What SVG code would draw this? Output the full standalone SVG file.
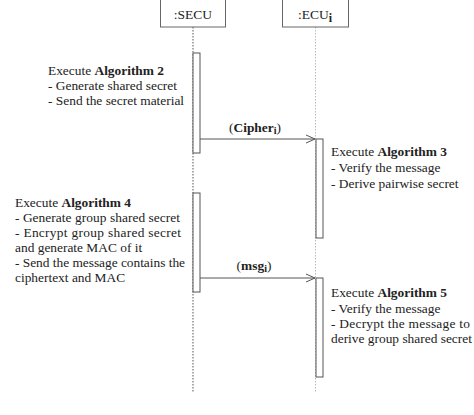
<svg xmlns="http://www.w3.org/2000/svg" width="474" height="415" viewBox="0 0 474 415">
<style>
text{font-family:"Liberation Serif","Times New Roman",serif;font-size:13.4px;fill:#222}
.hd{font-size:13.5px}
.b{font-weight:bold}
.box{fill:#fff;stroke:#666;stroke-width:1}
.bar{fill:#fff;stroke:#555;stroke-width:1}
.msg{stroke:#555;stroke-width:1;fill:none}
</style>
<defs>
<marker id="ah" markerWidth="12" markerHeight="10" refX="10" refY="5" orient="auto" markerUnits="userSpaceOnUse">
<path d="M1,1 L10,5 L1,9" fill="none" stroke="#555" stroke-width="1"/>
</marker>
</defs>
<rect width="474" height="415" fill="#fff"/>
<g id="lifelines">
<line x1="193" y1="27" x2="193" y2="392" stroke="#555" stroke-width="1" stroke-dasharray="1.5,1.5"/>
<line x1="315.5" y1="27" x2="315.5" y2="392" stroke="#bbb" stroke-width="1" stroke-dasharray="1.5,1.5"/>
</g>
<g id="secu">
<rect class="box" x="160.5" y="-1" width="65" height="28"/>
<text class="hd" x="193" y="19" text-anchor="middle">:SECU</text>
</g>
<g id="ecu">
<rect class="box" x="282.5" y="-1" width="66" height="28"/>
<text class="hd" x="315" y="19" text-anchor="middle">:ECU<tspan class="b" dy="3" font-size="12">i</tspan></text>
</g>
<g id="secu-act1"><rect class="bar" x="193" y="53" width="7" height="100"/></g>
<g id="secu-act2"><rect class="bar" x="193" y="193" width="7" height="99"/></g>
<g id="ecu-act1"><rect class="bar" x="316" y="139" width="7" height="99"/></g>
<g id="ecu-act2"><rect class="bar" x="316" y="278" width="7" height="99"/></g>
<g id="connectors">
<line class="msg" x1="200" y1="139" x2="315" y2="139" marker-end="url(#ah)"/>
<text x="255" y="132" text-anchor="middle" font-size="13.2">(<tspan class="b">Cipher<tspan dy="2" font-size="10">i</tspan></tspan><tspan dy="-2">)</tspan></text>
<line class="msg" x1="200" y1="278" x2="315" y2="278" marker-end="url(#ah)"/>
<text x="254" y="270" text-anchor="middle" font-size="13.2">(<tspan class="b">msg<tspan dy="2" font-size="10">i</tspan></tspan><tspan dy="-2">)</tspan></text>
</g>
<g id="note-alg2">
<text x="48" y="75">Execute <tspan class="b">Algorithm 2</tspan></text>
<text x="48" y="90">- Generate shared secret</text>
<text x="48" y="105">- Send the secret material</text>
</g>
<g id="note-alg3">
<text x="331" y="156">Execute <tspan class="b">Algorithm 3</tspan></text>
<text x="331" y="172">- Verify the message</text>
<text x="331" y="188">- Derive pairwise secret</text>
</g>
<g id="note-alg4">
<text x="15" y="207">Execute <tspan class="b">Algorithm 4</tspan></text>
<text x="15" y="222" textLength="165" lengthAdjust="spacing">-  Generate group shared secret</text>
<text x="15" y="237" textLength="166" lengthAdjust="spacing">- Encrypt group shared secret</text>
<text x="15" y="252">and generate MAC of it</text>
<text x="15" y="267" textLength="170" lengthAdjust="spacing">- Send the message contains the</text>
<text x="15" y="282">ciphertext and MAC</text>
</g>
<g id="note-alg5">
<text x="331" y="297">Execute <tspan class="b">Algorithm 5</tspan></text>
<text x="331" y="313">- Verify the message</text>
<text x="331" y="328" textLength="139" lengthAdjust="spacing">- Decrypt the message to</text>
<text x="331" y="343">derive group shared secret</text>
</g>
</svg>
